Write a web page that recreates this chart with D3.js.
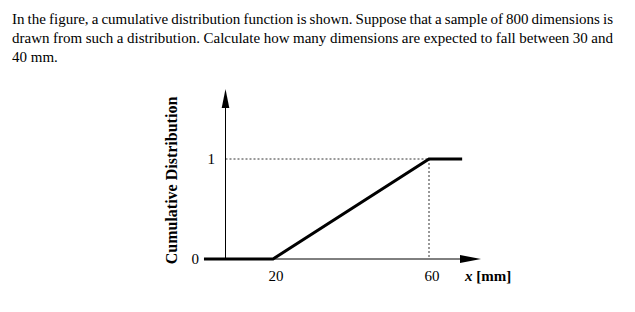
<!DOCTYPE html>
<html>
<head>
<meta charset="utf-8">
<script src="https://cdn.jsdelivr.net/npm/d3@7"></script>
<style>
  body { margin: 0; background: #fff; }
  svg { display: block; }
</style>
</head>
<body>
<div id="chart"></div>
<script>
// question text, one entry per justified line (last line is left aligned)
const questionLines = [
    "In the figure, a cumulative distribution function is shown. Suppose that a sample of 800 dimensions is",
    "drawn from such a distribution. Calculate how many dimensions are expected to fall between 30 and",
    "40 mm."
];

// piecewise linear CDF
const cdfX = [2.3, 20, 60, 68.5];
const cdfY = [0, 0, 1, 1];

const xTicks = [20, 60];
const yTicks = [0, 1];
const xLabel = "[mm]";
const yLabel = "Cumulative Distribution";

const width = 635, height = 312;
const fontFamily = "'Liberation Serif', 'Times New Roman', serif";

const xScale = d3.scaleLinear().domain([20, 60]).range([273, 429]);
const yScale = d3.scaleLinear().domain([0, 1]).range([259, 159]);

const axisX = 225.5;      // where the vertical axis stands
const xAxisStart = 204;
const xArrowTip = 481;
const yArrowTip = 89;

const svg = d3.select("#chart")
    .append("svg")
    .attr("width", width)
    .attr("height", height);

// question text, justified
const textLeft = 12, textRight = 613;
questionLines.forEach((line, i) => {
    const t = svg.append("text")
        .attr("x", textLeft)
        .attr("y", 24 + i * 19)
        .attr("fill", "#000")
        .style("font-family", fontFamily)
        .style("font-size", "15px")
        .text(line);
    if (i < questionLines.length - 1) {
        const natural = t.node().getComputedTextLength();
        const gaps = line.split(" ").length - 1;
        t.style("word-spacing", `${(textRight - textLeft - natural) / gaps}px`);
    }
});

const g = svg.append("g");

// dotted guides to (60, 1)
g.append("line")
    .attr("x1", axisX).attr("x2", xScale(60))
    .attr("y1", yScale(1)).attr("y2", yScale(1))
    .attr("stroke", "#333").attr("stroke-width", 1)
    .attr("stroke-dasharray", "2,2");
g.append("line")
    .attr("x1", xScale(60)).attr("x2", xScale(60))
    .attr("y1", yScale(1)).attr("y2", yScale(0))
    .attr("stroke", "#333").attr("stroke-width", 1)
    .attr("stroke-dasharray", "2,2");

// axes with arrow heads
g.append("line")
    .attr("x1", xAxisStart).attr("x2", xArrowTip - 18)
    .attr("y1", yScale(0)).attr("y2", yScale(0))
    .attr("stroke", "#000").attr("stroke-width", 1);
g.append("path")
    .attr("d", `M${xArrowTip},${yScale(0)} L${xArrowTip - 21},${yScale(0) - 4} L${xArrowTip - 21},${yScale(0) + 4} Z`)
    .attr("fill", "#000");

g.append("line")
    .attr("x1", axisX).attr("x2", axisX)
    .attr("y1", yScale(0)).attr("y2", yArrowTip + 16)
    .attr("stroke", "#000").attr("stroke-width", 1);
g.append("path")
    .attr("d", `M${axisX},${yArrowTip} L${axisX - 3.8},${yArrowTip + 19} L${axisX + 3.8},${yArrowTip + 19} Z`)
    .attr("fill", "#000");

// the CDF itself
const line = d3.line()
    .x(d => xScale(d[0]))
    .y(d => yScale(d[1]));
g.append("path")
    .datum(cdfX.map((x, i) => [x, cdfY[i]]))
    .attr("d", line)
    .attr("fill", "none")
    .attr("stroke", "#000")
    .attr("stroke-width", 3)
    .attr("stroke-linejoin", "miter");

// tick labels
g.selectAll(".xtick")
    .data(xTicks)
    .join("text")
    .attr("class", "xtick")
    .attr("x", d => xScale(d) + 3)
    .attr("y", 281)
    .attr("text-anchor", "middle")
    .style("font-family", fontFamily)
    .style("font-size", "15px")
    .text(d => d);

g.selectAll(".ytick")
    .data(yTicks)
    .join("text")
    .attr("class", "ytick")
    .attr("x", d => d === 0 ? 199 : 215)
    .attr("y", d => yScale(d) + 5)
    .attr("text-anchor", "end")
    .style("font-family", fontFamily)
    .style("font-size", "15px")
    .text(d => d);

// axis titles
const xt = g.append("text")
    .attr("x", 465)
    .attr("y", 281)
    .style("font-family", fontFamily)
    .style("font-size", "15px")
    .style("font-weight", "bold");
xt.append("tspan").style("font-style", "italic").text("x");
xt.append("tspan").text(" " + xLabel);

g.append("text")
    .attr("transform", "translate(176.5, 180.5) rotate(-90)")
    .attr("text-anchor", "middle")
    .style("font-family", fontFamily)
    .style("font-size", "16px")
    .style("font-weight", "bold")
    .text(yLabel);
</script>
</body>
</html>
